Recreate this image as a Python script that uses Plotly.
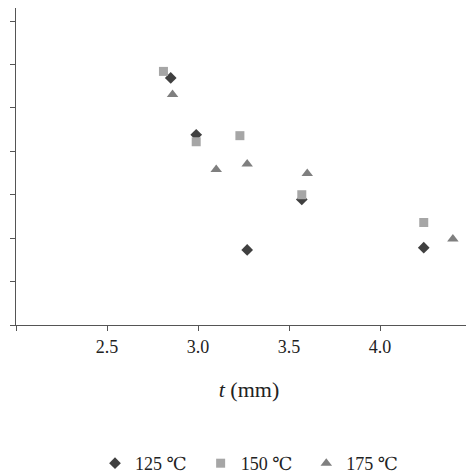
import plotly.graph_objs as go

# thickness t (mm) and measured value per temperature
t_125 = [2.85, 2.99, 3.27, 3.57, 4.24]
v_125 = [5.69, 4.38, 1.73, 2.89, 1.78]
t_150 = [2.81, 2.99, 3.23, 3.57, 4.24]
v_150 = [5.84, 4.22, 4.36, 3.00, 2.36]
t_175 = [2.86, 3.10, 3.27, 3.60, 4.40]
v_175 = [5.31, 3.58, 3.71, 3.49, 1.98]

font = dict(family="Liberation Serif, Times New Roman, DejaVu Serif, serif",
            size=18, color="#222")

traces = [
    go.Scatter(x=t_125, y=v_125, mode="markers", name="125 ℃  ",
               marker={'color': '#404040', 'symbol': 'diamond', 'size': 9}),
    go.Scatter(x=t_150, y=v_150, mode="markers", name="150 ℃  ",
               marker={'color': '#a6a6a6', 'symbol': 'square', 'size': 9}),
    go.Scatter(x=t_175, y=v_175, mode="markers", name="175 ℃",
               marker={'color': '#7f7f7f', 'symbol': 'triangle-up', 'size': 10}),
]

layout = go.Layout(
    width=474, height=474,
    margin=dict(l=8, r=0, t=0, b=146),
    paper_bgcolor="white", plot_bgcolor="white",
    font=font,
    xaxis=dict(range=[2.0, 4.56], dtick=0.5, tickformat=".1f",
               automargin=False,
               showline=True, linecolor="#555", linewidth=1,
               ticks="outside", ticklen=5, tickcolor="#555",
               showgrid=False, zeroline=False,
               title=dict(text="<i>t</i> (mm)", standoff=26)),
    yaxis=dict(range=[0, 7.3], dtick=1, showticklabels=False,
               automargin=False,
               showline=True, linecolor="#555", linewidth=1,
               ticks="outside", ticklen=5, tickcolor="#555",
               showgrid=False, zeroline=False),
    legend=dict(orientation="h", x=0.5, xanchor="center", y=-0.38,
                yanchor="top", font=font),
)

fig = go.Figure(data=traces, layout=layout)
fig.write_html("out.html")
